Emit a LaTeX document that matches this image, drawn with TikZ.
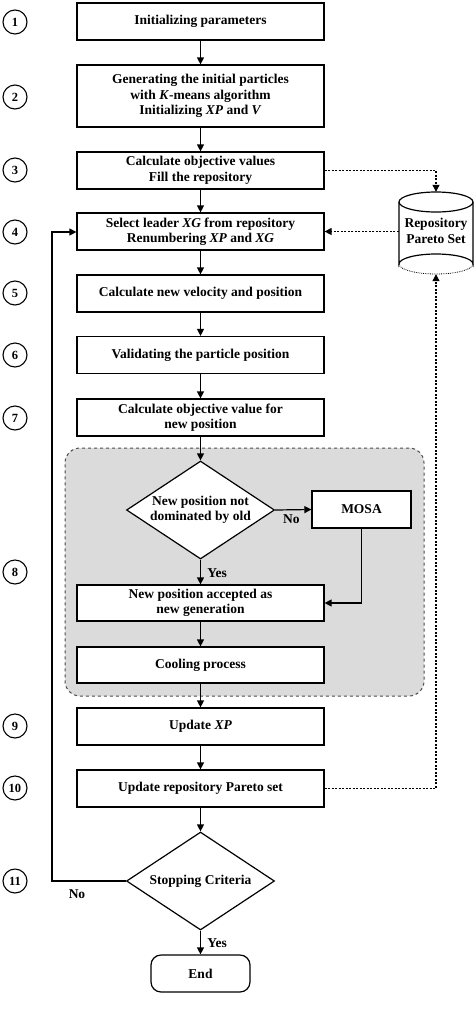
\documentclass[tikz,border=0pt]{standalone}
\usepackage{fontspec}
\setmainfont{Liberation Serif}
\usetikzlibrary{shapes.geometric,arrows.meta,positioning}
\begin{document}
\begin{tikzpicture}[x=1pt,y=-1pt,
  font=\fontsize{13.5}{15.5}\selectfont\bfseries,
  box/.style={draw,line width=1.2pt,fill=white,minimum width=247pt,minimum height=37pt,align=center,inner sep=1pt},
  dec/.style={draw,line width=1.2pt,fill=white,diamond,minimum width=148pt,minimum height=98pt,aspect=1.51,align=center,inner sep=0pt},
  num/.style={draw,circle,line width=1.1pt,minimum size=24pt,inner sep=0pt,font=\fontsize{12.5}{13}\selectfont\bfseries},
  arr/.style={line width=1.2pt,-{Triangle[length=7pt,width=7pt]}},
  darr/.style={line width=1.1pt,dash pattern=on 2pt off 1.5pt,-{Triangle[length=7pt,width=7pt]}},
  lbl/.style={font=\fontsize{13.5}{15}\selectfont\bfseries}
]
\useasboundingbox (0,0) rectangle (474,1010);
% gray region
\node[draw=black!70,dashed,line width=1pt,fill=black!14,rounded corners=15pt,minimum width=359pt,minimum height=248pt] (region) at (244.5,572) {};
% boxes
\node[box] (b1) at (200.5,21.5) {Initializing parameters};
\node[box,minimum height=62pt] (b2) at (200.5,96) {Generating the initial particles\\with \textit{K}-means algorithm\\Initializing \textit{XP} and \textit{V}};
\node[box] (b3) at (200.5,170.5) {Calculate objective values\\Fill the repository};
\node[box] (b4) at (200.5,231.5) {Select leader \textit{XG} from repository\\Renumbering \textit{XP} and \textit{XG}};
\node[box] (b5) at (200.5,293.5) {Calculate new velocity and position};
\node[box] (b6) at (200.5,355) {Validating the particle position};
\node[box] (b7) at (200.5,417.5) {Calculate objective value for\\new position};
\node[dec] (d1) at (200.5,510) {New position not\\dominated by old};
\node[box,minimum width=99pt] (mosa) at (361.5,509.5) {MOSA};
\node[box,minimum height=36pt] (acc) at (200.5,603) {New position accepted as\\new generation};
\node[box,minimum height=36pt] (cool) at (200.5,665) {Cooling process};
\node[box] (b9) at (200.5,726.5) {Update \textit{XP}};
\node[box] (b10) at (200.5,788.5) {Update repository Pareto set};
\node[dec] (d2) at (200.5,881) {Stopping Criteria};
\node[draw,line width=1.2pt,rounded corners=10pt,minimum width=99pt,minimum height=37pt] (end) at (200.5,973.5) {End};
% cylinder (drawn by hand)
\node[minimum width=74pt,minimum height=82pt,inner sep=0pt] (rep) at (436,233) {};
\draw[line width=1.2pt] (436,202) ellipse [x radius=37pt,y radius=10pt];
\draw[line width=1.2pt] (399,202) -- (399,264) arc[start angle=180,end angle=0,x radius=37pt,y radius=10pt] -- (473,202);
\draw[densely dotted,line width=0.8pt] (399,264) arc[start angle=180,end angle=360,x radius=37pt,y radius=10pt];
\node[align=center] (reptxt) at (436,231) {Repository\\Pareto Set};
% numbers
\foreach \n/\y in {1/22,2/97,3/170,4/232,5/293,6/355,7/418,8/572,9/726,10/788,11/881}
  \node[num] (n\n) at (15,\y) {\n};
% arrows
\draw[arr] (b1) -- (b2);
\draw[arr] (b2) -- (b3);
\draw[arr] (b3) -- (b4);
\draw[arr] (b4) -- (b5);
\draw[arr] (b5) -- (b6);
\draw[arr] (b6) -- (b7);
\draw[arr] (b7) -- (d1);
\draw[arr] (d1) -- node[right,lbl,xshift=3pt,yshift=-1pt]{Yes} (acc);
\draw[arr] (d1.east) -- node[below,lbl,xshift=-2pt,yshift=-1pt]{No} (mosa.west);
\draw[arr] (mosa.south) |- (acc.east);
\draw[arr] (acc) -- (cool);
\draw[arr] (cool) -- (b9);
\draw[arr] (b9) -- (b10);
\draw[arr] (b10) -- (d2);
\draw[arr] (d2) -- node[right,lbl,xshift=3pt,yshift=-1pt]{Yes} (end);
\coordinate (lb) at (52,881);
\coordinate (lt) at (52,232);
\draw[arr] (d2.west) -- (lb) -- (lt) -- (lt -| b4.west);
\node[lbl] (nolbl) at (77,894) {No};
% dotted
\coordinate (c3) at (436,170.5);
\draw[darr] (b3.east) -- (c3) -- (rep.north);
\draw[darr] (rep.west |- b4.east) -- (b4.east);
\coordinate (c10) at (436,788.5);
\draw[darr] (b10.east) -- (c10) -- (rep.south);
\end{tikzpicture}
\end{document}
